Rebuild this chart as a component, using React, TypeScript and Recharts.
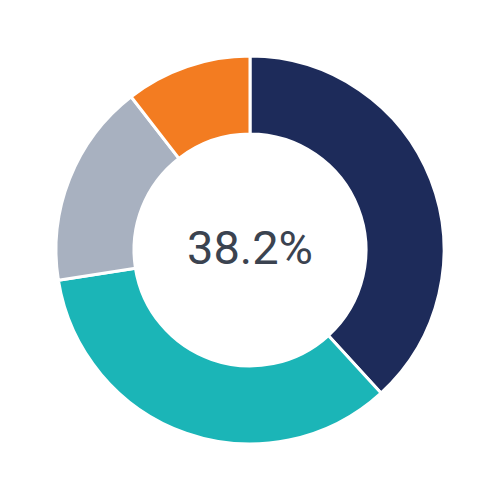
import React from "react";
import { PieChart, Pie, Cell } from "recharts";

const categories = ["A", "B", "C", "D"];
const values = [38.2, 34.3, 17.0, 10.5];
const colors = ["#1d2b5a", "#1bb5b7", "#a8b1c0", "#f37c21"];
const centerLabel = "38.2%";

const data = categories.map((name, i) => ({ name, value: values[i] }));

export default function App() {
  return (
    <div style={{ position: "absolute", left: 0, top: 0, width: 500, height: 500, background: "#fff" }}>
      <PieChart width={500} height={500} margin={{ top: 0, right: 0, bottom: 0, left: 0 }}>
        <Pie
          data={data}
          dataKey="value"
          nameKey="name"
          cx={250}
          cy={250}
          innerRadius={116}
          outerRadius={194}
          startAngle={90}
          endAngle={-270}
          stroke="#ffffff"
          strokeWidth={3}
          isAnimationActive={false}
        >
          {data.map((d, i) => (
            <Cell key={d.name} fill={colors[i]} />
          ))}
        </Pie>
        <text
          x={250}
          y={247}
          textAnchor="middle"
          dominantBaseline="central"
          fontFamily="Roboto"
          fontSize={47}
          fill="#3b4350"
        >
          {centerLabel}
        </text>
      </PieChart>
    </div>
  );
}
